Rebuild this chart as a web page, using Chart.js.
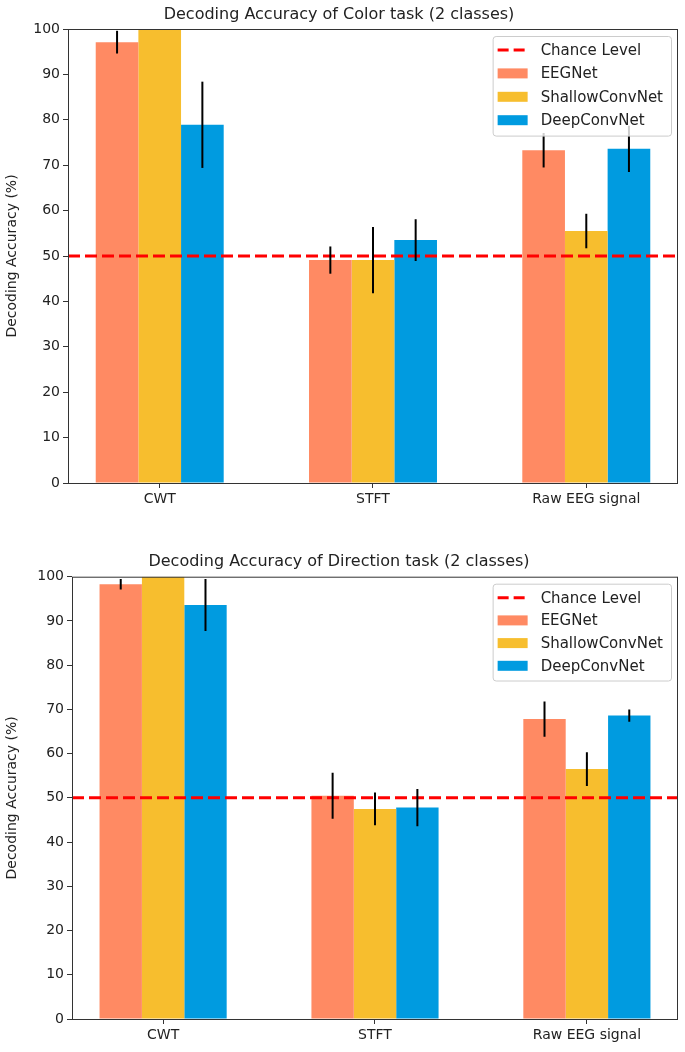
<!DOCTYPE html>
<html>
<head>
<meta charset="utf-8">
<script src="https://cdn.jsdelivr.net/npm/chart.js@4"></script>
<style>
  body { margin: 0; background: #fff; }
  .wrap { position: absolute; left: 0; }
</style>
</head>
<body>
<div class="wrap" style="top:0"><canvas id="colorChart" width="685" height="520"></canvas></div>
<div class="wrap" style="top:530px"><canvas id="directionChart" width="685" height="522"></canvas></div>
<script>
const categories = ["CWT", "STFT", "Raw EEG signal"];
const modelNames = ["EEGNet", "ShallowConvNet", "DeepConvNet"];
const modelColors = ["#ff8a63", "#f7be2e", "#009be0"];
const chanceLevel = 50;
const yTicks = [0, 10, 20, 30, 40, 50, 60, 70, 80, 90, 100];

// color task
const colorEEGNet = [97.1, 49.1, 73.3];
const colorEEGNetErr = [2.5, 3.0, 3.8];
const colorShallow = [100, 49.1, 55.5];
const colorShallowErr = [0, 7.3, 3.8];
const colorDeep = [78.9, 53.5, 73.6];
const colorDeepErr = [9.5, 4.6, 5.1];

// direction task
const dirEEGNet = [98.3, 50.5, 67.8];
const dirEEGNetErr = [1.2, 5.2, 4.0];
const dirShallow = [100, 47.5, 56.5];
const dirShallowErr = [0, 3.7, 3.8];
const dirDeep = [93.6, 47.8, 68.6];
const dirDeepErr = [5.9, 4.2, 1.4];

const font = "DejaVu Sans";

// error bars, frame and the legend box inside the plot
const errorBarPlugin = {
  id: "errorBars",
  afterDatasetsDraw(chart) {
    const ctx = chart.ctx;
    const y = chart.scales.y;
    const area = chart.chartArea;
    ctx.save();
    ctx.beginPath();
    ctx.rect(area.left, area.top, area.right - area.left, area.bottom - area.top);
    ctx.clip();
    ctx.strokeStyle = "#000";
    ctx.lineWidth = 2;
    chart.data.datasets.forEach((ds, i) => {
      if (!ds.err) return;
      const meta = chart.getDatasetMeta(i);
      meta.data.forEach((bar, j) => {
        const v = ds.data[j].y;
        const e = ds.err[j];
        if (!e) return;
        ctx.beginPath();
        ctx.moveTo(bar.x, y.getPixelForValue(v + e));
        ctx.lineTo(bar.x, y.getPixelForValue(v - e));
        ctx.stroke();
      });
    });
    ctx.restore();
  },
  afterDraw(chart) {
    const ctx = chart.ctx;
    const area = chart.chartArea;
    ctx.save();
    ctx.strokeStyle = "#333";
    ctx.lineWidth = 1;
    ctx.strokeRect(area.left + 0.5, area.top + 0.5, area.right - area.left - 1, area.bottom - area.top);

    const items = chart.data.datasets.map(ds => ({label: ds.label, color: ds.borderColor, line: ds.type === "line"}));
    ctx.font = "15px '" + font + "'";
    let maxW = 0;
    items.forEach(it => { maxW = Math.max(maxW, ctx.measureText(it.label).width); });
    const rowH = chart.options.legendRow;
    const boxW = 5 + 30 + 13 + maxW + 8;
    const boxH = rowH * items.length + 6;
    const bx = area.right - 7 - boxW;
    const by = area.top + 7;
    ctx.fillStyle = "rgba(255,255,255,0.8)";
    ctx.strokeStyle = "#cccccc";
    ctx.beginPath();
    ctx.roundRect(bx + 0.5, by + 0.5, boxW, boxH, 3);
    ctx.fill();
    ctx.stroke();
    items.forEach((it, k) => {
      const cy = by + 14 + k * rowH;
      if (it.line) {
        ctx.strokeStyle = it.color;
        ctx.lineWidth = 3;
        ctx.setLineDash([11, 5]);
        ctx.beginPath();
        ctx.moveTo(bx + 5, cy);
        ctx.lineTo(bx + 35, cy);
        ctx.stroke();
        ctx.setLineDash([]);
      } else {
        ctx.fillStyle = it.color;
        ctx.fillRect(bx + 5, cy - 5, 30, 10);
      }
      ctx.fillStyle = "#222";
      ctx.textBaseline = "middle";
      ctx.textAlign = "left";
      ctx.fillText(it.label, bx + 48, cy + 1);
    });
    ctx.restore();
  }
};

function points(values) {
  return values.map((v, i) => ({x: i, y: v}));
}

function makeChart(id, title, series, errs, opts) {
  const datasets = [{
    type: "line",
    label: "Chance Level",
    data: [{x: -0.43, y: chanceLevel}, {x: 2.43, y: chanceLevel}],
    borderColor: "#ff0000",
    borderWidth: 3,
    borderDash: [12, 5],
    pointRadius: 0,
    order: 0
  }];
  series.forEach((s, i) => {
    datasets.push({
      type: "bar",
      label: modelNames[i],
      data: points(s),
      err: errs[i],
      backgroundColor: modelColors[i],
      borderColor: modelColors[i],
      borderWidth: 0,
      categoryPercentage: 0.6,
      barPercentage: 1,
      order: 1
    });
  });

  return new Chart(document.getElementById(id), {
    data: {datasets: datasets},
    plugins: [errorBarPlugin],
    options: {
      responsive: false,
      animation: false,
      devicePixelRatio: 1,
      legendRow: opts.row,
      layout: {padding: {left: 0, right: 7, top: 0, bottom: 0}},
      plugins: {
        legend: {display: false},
        tooltip: {enabled: false},
        title: {
          display: true,
          text: title,
          color: "#222",
          font: {family: font, size: 16, weight: "normal"},
          padding: {top: opts.titleTop, bottom: opts.titleBottom}
        }
      },
      scales: {
        x: {
          type: "linear",
          offset: false,
          min: -0.43,
          max: 2.43,
          afterBuildTicks: scale => { scale.ticks = categories.map((c, i) => ({value: i})); },
          afterFit: scale => { scale.height = opts.xHeight; },
          ticks: {
            callback: v => categories[v],
            color: "#222",
            padding: 3,
            maxRotation: 0,
            font: {family: font, size: 14}
          },
          grid: {offset: false, drawOnChartArea: false, drawTicks: true, tickLength: 5, color: "#333"},
          border: {display: false}
        },
        y: {
          min: 0,
          max: 100,
          afterBuildTicks: scale => { scale.ticks = yTicks.map(v => ({value: v})); },
          afterFit: scale => { scale.width = opts.yWidth; },
          ticks: {color: "#222", padding: 3, font: {family: font, size: 14}},
          grid: {drawOnChartArea: false, drawTicks: true, tickLength: 5, color: "#333"},
          border: {display: false},
          title: {
            display: true,
            text: "Decoding Accuracy (%)",
            color: "#222",
            padding: {top: 4, bottom: 0},
            font: {family: font, size: 14}
          }
        }
      }
    }
  });
}

makeChart("colorChart", "Decoding Accuracy of Color task (2 classes)",
  [colorEEGNet, colorShallow, colorDeep],
  [colorEEGNetErr, colorShallowErr, colorDeepErr],
  {titleTop: 5, titleBottom: 4.8, xHeight: 37, yWidth: 68, row: 23.4});

makeChart("directionChart", "Decoding Accuracy of Direction task (2 classes)",
  [dirEEGNet, dirShallow, dirDeep],
  [dirEEGNetErr, dirShallowErr, dirDeepErr],
  {titleTop: 22, titleBottom: 5.5, xHeight: 33, yWidth: 72, row: 22.7});
</script>
</body>
</html>
